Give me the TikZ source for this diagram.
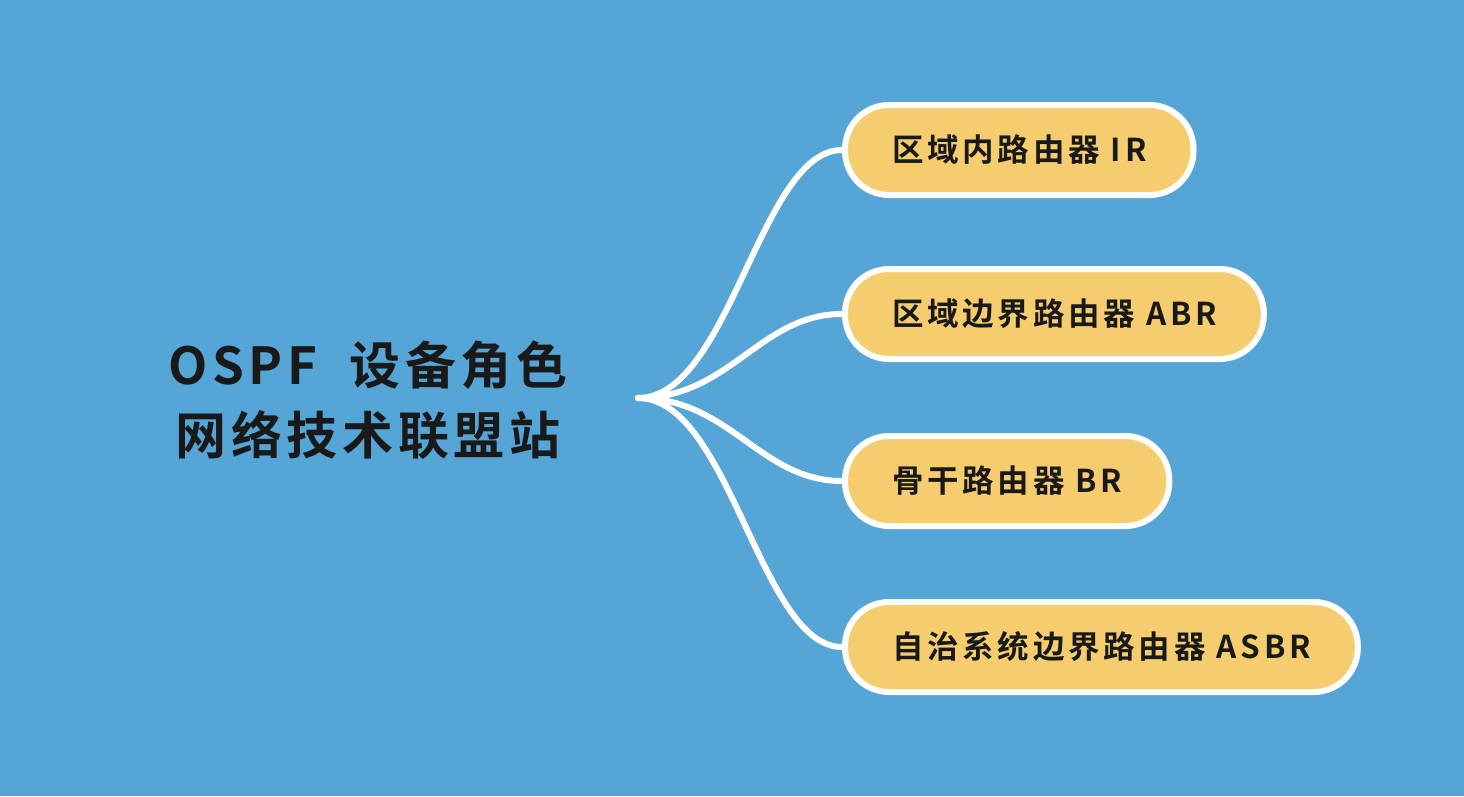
\documentclass[tikz,border=0pt]{standalone}
\usepackage{fontspec}
\setmainfont{Noto Sans CJK SC}
\newfontfamily\leaffont{Noto Sans CJK SC Bold}[LetterSpace=12]
\newfontfamily\titlefont{Noto Sans CJK SC Bold}[LetterSpace=9]
\definecolor{bg}{HTML}{55A5D6}
\definecolor{boxy}{HTML}{F5CD6E}
\begin{document}
\begin{tikzpicture}[x=1pt,y=-1pt,
  leaf/.style={draw=white, line width=6pt, fill=boxy, rounded corners=44pt,
    minimum height=90pt, inner xsep=47pt, anchor=west,
    font=\leaffont\fontsize{31.5}{36}\selectfont, text=black!90},
  link/.style={draw=white, line width=6pt, line cap=round}]
\fill[bg] (0,0) rectangle (1464,796);
\useasboundingbox (0,0) rectangle (1464,796);
\node[font=\titlefont\fontsize{51}{70}\selectfont, align=center, text=black!90] (title) at (368,400) {OSPF\ \ 设备角色\\网络技术联盟站};
\coordinate (root) at (638,398);
\node[leaf] (ir) at (842,150) {区域内路由器 IR};
\node[leaf] (abr) at (842,314) {区域边界路由器 ABR};
\node[leaf] (br) at (842,481) {骨干路由器 BR};
\node[leaf] (asbr) at (842,647) {自治系统边界路由器 ASBR};
\draw[link] (root) .. controls (730,398) and (760,150) .. (ir.west);
\draw[link] (root) .. controls (730,398) and (760,314) .. (abr.west);
\draw[link] (root) .. controls (730,398) and (760,481) .. (br.west);
\draw[link] (root) .. controls (730,398) and (760,647) .. (asbr.west);
\end{tikzpicture}
\end{document}
